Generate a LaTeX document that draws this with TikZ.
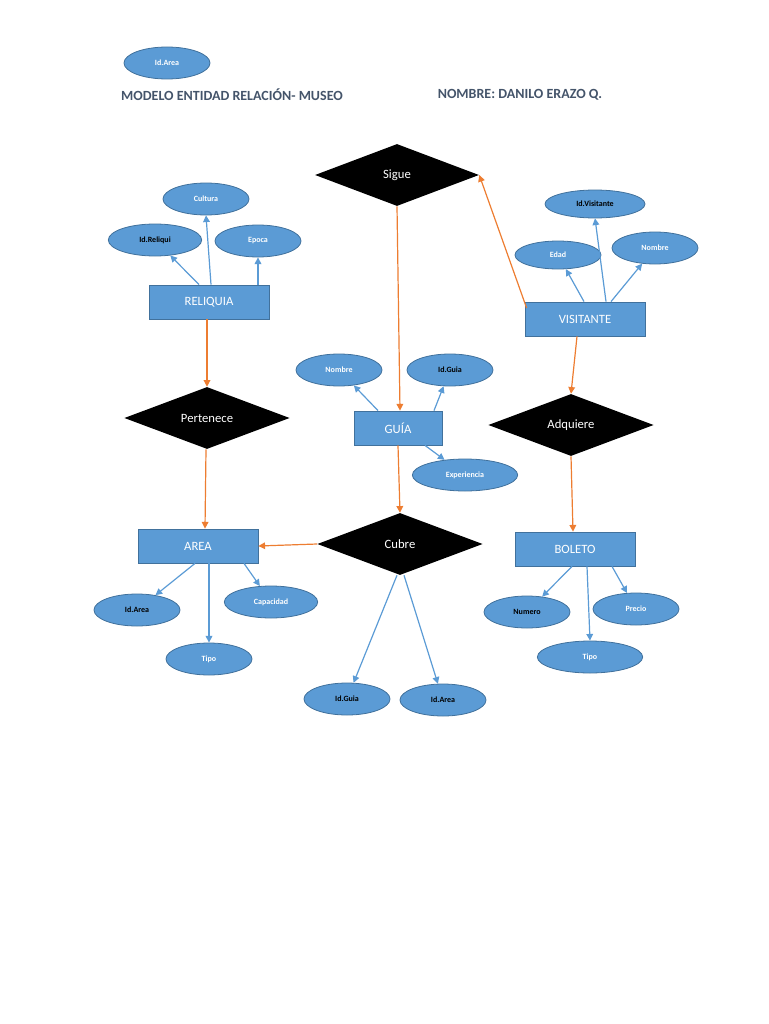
\documentclass[tikz,border=0pt]{standalone}
\usepackage{fontspec}
\setmainfont{Carlito}
\usetikzlibrary{shapes.geometric,arrows.meta,calc}
\definecolor{bfill}{HTML}{5B9BD5}
\definecolor{bline}{HTML}{41719C}
\definecolor{orng}{HTML}{ED7D31}
\definecolor{ttl}{HTML}{44546A}
\begin{document}
\begin{tikzpicture}[x=0.75pt,y=-0.75pt,
 ent/.style={draw=bline,fill=bfill,minimum width=90pt,minimum height=25.5pt,inner sep=0pt,text=white,font=\fontsize{9.5}{10}\selectfont,line width=0.6pt},
 att/.style={ellipse,draw=bline,fill=bfill,minimum width=64.5pt,minimum height=24pt,inner sep=0pt,text=white,font=\bfseries\fontsize{6}{7}\selectfont,line width=0.6pt},
 key/.style={att,text=black},
 rel/.style={diamond,fill=black,minimum width=124pt,minimum height=46.5pt,inner sep=0pt,aspect=2.6,text=white,font=\fontsize{9.5}{10}\selectfont},
 oa/.style={draw=orng,line width=0.9pt,-{Triangle[width=5pt,length=5pt]}},
 ba/.style={draw=bfill,line width=0.9pt,-{Triangle[width=5pt,length=5pt]}},
 title/.style={text=ttl,font=\bfseries\fontsize{10.5}{12}\selectfont}]
\useasboundingbox (0,0) rectangle (768,1024);
\node[att] (topa) at (167,63) {Id.Area};
\node[title] (t1) at (232,95) {MODELO ENTIDAD RELACIÓN- MUSEO};
\node[title] (t2) at (520,95) {NOMBRE: DANILO ERAZO Q.};
% relationships
\node[rel,minimum width=123pt] (sigue) at (397,175) {Sigue};
\node[rel] (pert) at (207,418) {Pertenece};
\node[rel] (adq) at (571,425) {Adquiere};
\node[rel] (cubre) at (400,544) {Cubre};
% entities
\node[ent] (reli) at (209,302) {RELIQUIA};
\node[ent,minimum width=66pt] (guia) at (398,428) {GUÍA};
\node[ent] (visi) at (585,319) {VISITANTE};
\node[ent] (area) at (198,546) {AREA};
\node[ent] (bol) at (575,549) {BOLETO};
% attributes
\node[att] (cult) at (206,199) {Cultura};
\node[key,minimum width=70pt] (idrel) at (155,240) {Id.Reliqui};
\node[att] (epoca) at (258,241) {Epoca};
\node[att] (gnom) at (339,370) {Nombre};
\node[key] (idg) at (450,370) {Id.Guia};
\node[att,minimum width=79pt] (exp) at (465,475) {Experiencia};
\node[key,minimum width=75pt,minimum height=21pt] (idv) at (595,204) {Id.Visitante};
\node[att,minimum height=21pt] (edad) at (558,255) {Edad};
\node[att] (vnom) at (655,248) {Nombre};
\node[key] (ida) at (137,610) {Id.Area};
\node[att,minimum width=70pt] (cap) at (271,602) {Capacidad};
\node[att] (atipo) at (209,659) {Tipo};
\node[key] (cidg) at (347,699) {Id.Guia};
\node[key] (cida) at (443,700) {Id.Area};
\node[key] (num) at (527,612) {Numero};
\node[att] (prec) at (636,609) {Precio};
\node[att,minimum width=79pt] (btipo) at (590,657) {Tipo};
% orange connectors
\draw[oa] ($(reli.south)+(-2,0)$) -- (pert.north);
\draw[oa] (sigue.south) -- ($(guia.north)+(2,0)$);
\draw[oa] ($(visi.west)+(2,-11)$) -- (sigue.east);
\draw[oa] ($(visi.south)+(-8,0)$) -- (adq.north);
\draw[oa] ($(pert.south)+(-1,0)$) -- ($(area.north)+(7,0)$);
\draw[oa] (guia.south) -- (cubre.north);
\draw[oa] (cubre.west) -- (area.east);
\draw[oa] (adq.south) -- ($(bol.north)+(-2,0)$);
% blue connectors
\draw[ba] ($(reli.north)+(-10,0)$) -- (idrel);
\draw[ba] ($(reli.north)+(2,0)$) -- (cult.south);
\draw[ba] ($(reli.north)+(49,0)$) -- (epoca);
\draw[ba] ($(guia.north)+(-20,0)$) -- (gnom);
\draw[ba] ($(guia.north)+(36,0)$) -- (idg);
\draw[ba] ($(guia.south)+(27,0)$) -- (exp);
\draw[ba] ($(visi.north)+(-1,0)$) -- (edad);
\draw[ba] ($(visi.north)+(21,0)$) -- (idv.south);
\draw[ba] ($(visi.north)+(26,0)$) -- (vnom);
\draw[ba] ($(area.south)+(-3,0)$) -- (ida);
\draw[ba] ($(area.south)+(11,0)$) -- (atipo.north);
\draw[ba] ($(area.south)+(46,0)$) -- (cap);
\draw[ba] ($(cubre.south)+(-3,0)$) -- (cidg);
\draw[ba] ($(cubre.south)+(4,0)$) -- (cida);
\draw[ba] ($(bol.south)+(-3,0)$) -- (num);
\draw[ba] ($(bol.south)+(12,0)$) -- (btipo.north);
\draw[ba] ($(bol.south)+(37,0)$) -- (prec);
\end{tikzpicture}
\end{document}
